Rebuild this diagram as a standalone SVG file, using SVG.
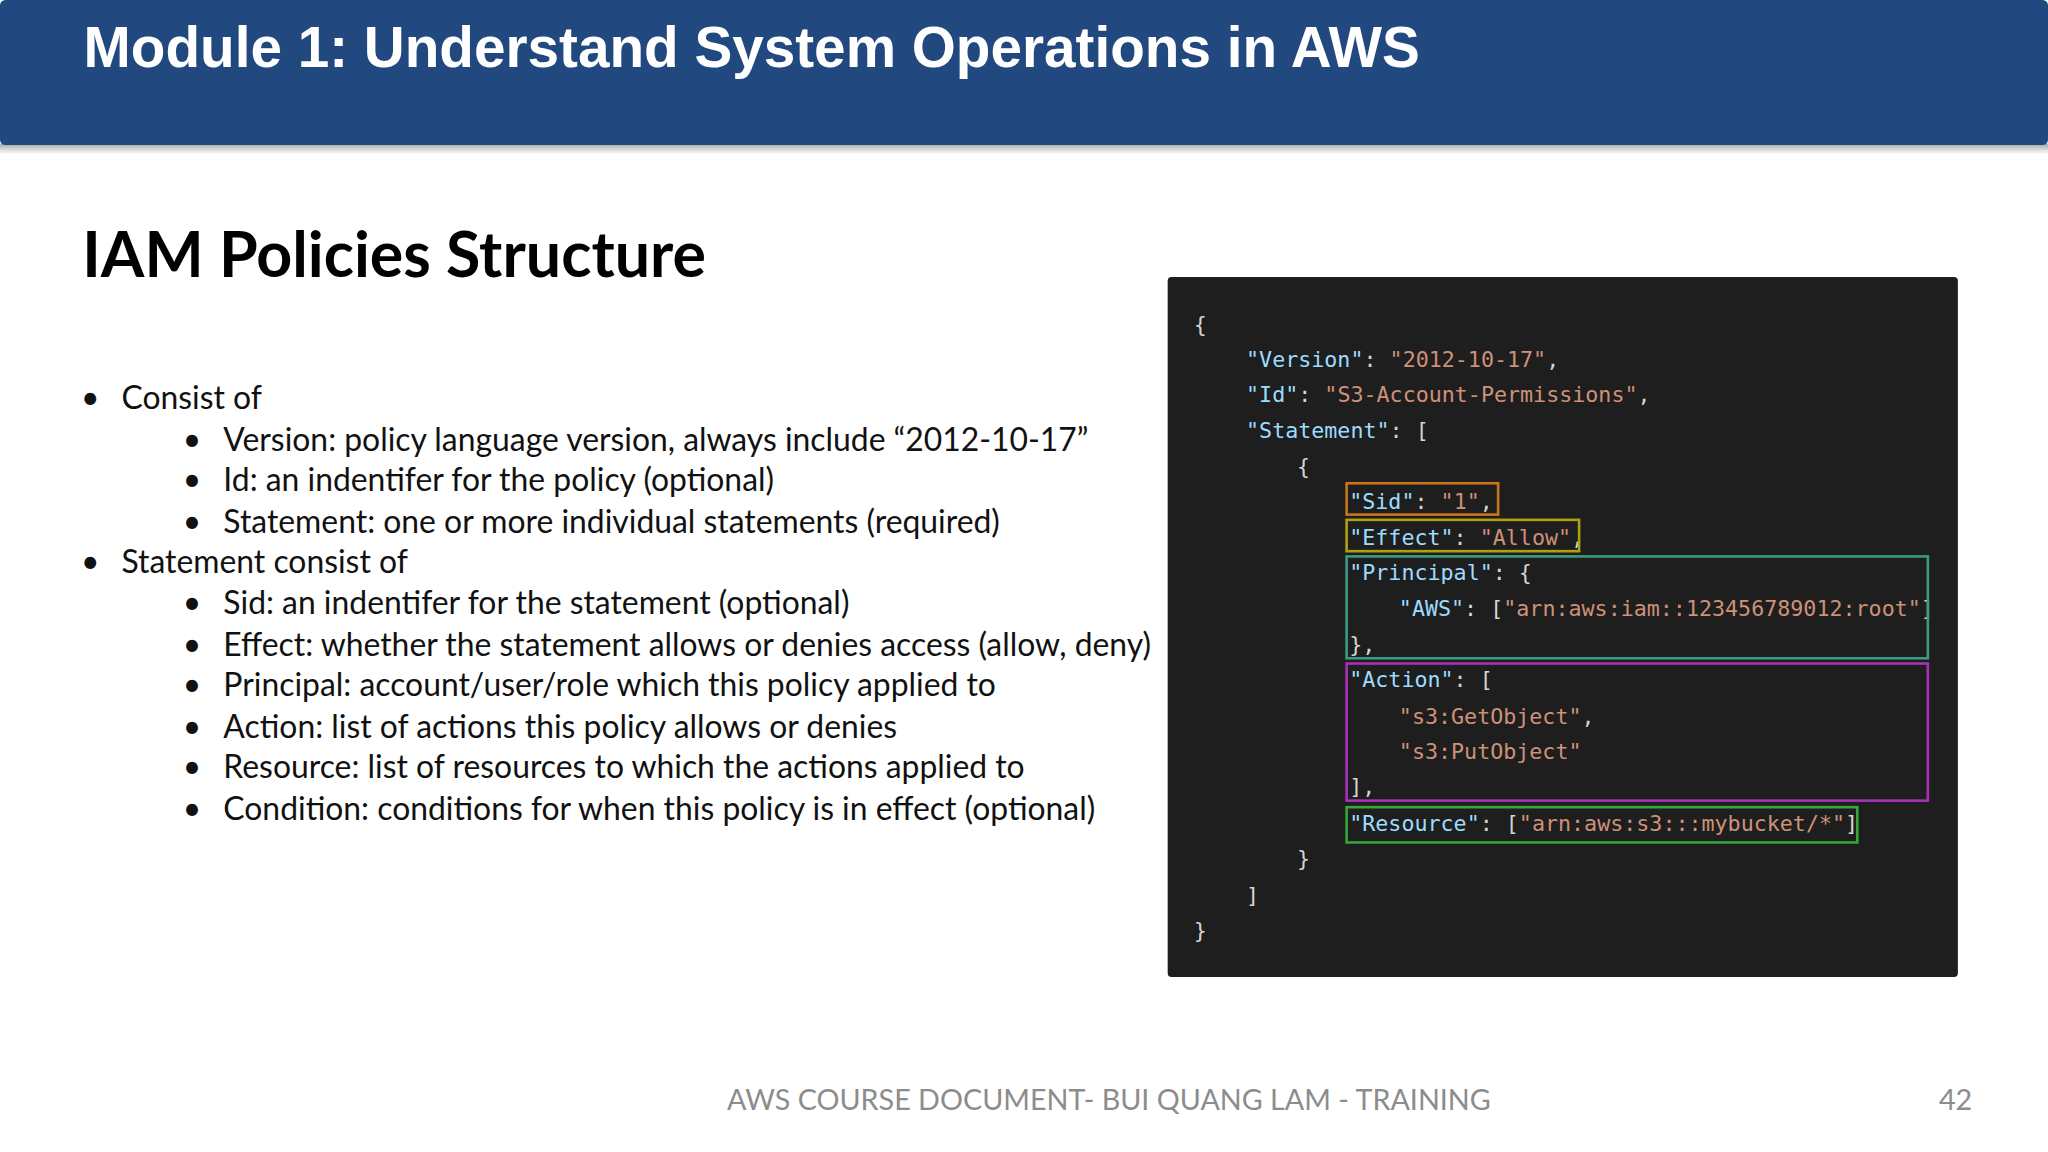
<svg xmlns="http://www.w3.org/2000/svg" width="2048" height="1152" viewBox="0 0 2048 1152">
<defs>
<linearGradient id="sh" x1="0" y1="0" x2="0" y2="1"><stop offset="0" stop-color="#000" stop-opacity="0.35"/><stop offset="1" stop-color="#000" stop-opacity="0"/></linearGradient>
<style>
.b{font-family:Lato,"Open Sans",sans-serif;font-size:24.4px;fill:#111}
.c{font-family:"DejaVu Sans Mono","Liberation Mono",monospace;font-size:16.6px;fill:#d4d4d4;white-space:pre}
.k{fill:#9cdcfe}.s{fill:#ce9178}
.bx{fill:none;stroke-width:2}
</style>
</defs>
<rect width="2048" height="1152" fill="#fff"/>
<g transform="scale(1.30612)">
<g id="header">
<rect x="0" y="110" width="1568" height="8" fill="url(#sh)"/>
<rect x="0" y="0" width="1568" height="111" rx="4" fill="#22497f"/>
<text x="64" y="51" font-family="'Liberation Sans',Arial,sans-serif" font-weight="bold" font-size="43.4" fill="#fff">Module 1: Understand System Operations in AWS</text>
</g>
<g id="title"><text x="63" y="212" font-family="Lato,'Open Sans',sans-serif" font-weight="bold" font-size="48" fill="#000">IAM Policies Structure</text></g>
<g id="bullets">
<text class="b" x="62" y="313">•</text><text class="b" x="93" y="313">Consist of</text>
<text class="b" x="140" y="345">•</text><text class="b" x="171" y="345">Version: policy language version, always include “2012-10-17”</text>
<text class="b" x="140" y="376">•</text><text class="b" x="171" y="376">Id: an indentifer for the policy (optional)</text>
<text class="b" x="140" y="408">•</text><text class="b" x="171" y="408">Statement: one or more individual statements (required)</text>
<text class="b" x="62" y="439">•</text><text class="b" x="93" y="439">Statement consist of</text>
<text class="b" x="140" y="470">•</text><text class="b" x="171" y="470">Sid: an indentifer for the statement (optional)</text>
<text class="b" x="140" y="502">•</text><text class="b" x="171" y="502">Effect: whether the statement allows or denies access (allow, deny)</text>
<text class="b" x="140" y="533">•</text><text class="b" x="171" y="533">Principal: account/user/role which this policy applied to</text>
<text class="b" x="140" y="565">•</text><text class="b" x="171" y="565">Action: list of actions this policy allows or denies</text>
<text class="b" x="140" y="596">•</text><text class="b" x="171" y="596">Resource: list of resources to which the actions applied to</text>
<text class="b" x="140" y="628">•</text><text class="b" x="171" y="628">Condition: conditions for when this policy is in effect (optional)</text>
</g>
<g id="code">
<rect x="894" y="212" width="605" height="536" rx="3" fill="#1e1e1e"/>
<text class="c" x="914" y="254">{</text>
<text class="c" x="954" y="281"><tspan class="k">"Version"</tspan>: <tspan class="s">"2012-10-17"</tspan>,</text>
<text class="c" x="954" y="308"><tspan class="k">"Id"</tspan>: <tspan class="s">"S3-Account-Permissions"</tspan>,</text>
<text class="c" x="954" y="335"><tspan class="k">"Statement"</tspan>: [</text>
<text class="c" x="993" y="363">{</text>
<text class="c" x="1033" y="390"><tspan class="k">"Sid"</tspan>: <tspan class="s">"1"</tspan>,</text>
<text class="c" x="1033" y="417"><tspan class="k">"Effect"</tspan>: <tspan class="s">"Allow"</tspan>,</text>
<text class="c" x="1033" y="444"><tspan class="k">"Principal"</tspan>: {</text>
<text class="c" x="1071" y="472"><tspan class="k">"AWS"</tspan>: [<tspan class="s">"arn:aws:iam::123456789012:root"</tspan>]</text>
<text class="c" x="1033" y="499">},</text>
<text class="c" x="1033" y="526"><tspan class="k">"Action"</tspan>: [</text>
<text class="c" x="1071" y="554"><tspan class="s">"s3:GetObject"</tspan>,</text>
<text class="c" x="1071" y="581"><tspan class="s">"s3:PutObject"</tspan></text>
<text class="c" x="1033" y="608">],</text>
<text class="c" x="1033" y="636"><tspan class="k">"Resource"</tspan>: [<tspan class="s">"arn:aws:s3:::mybucket/*"</tspan>]</text>
<text class="c" x="993" y="663">}</text>
<text class="c" x="954" y="691">]</text>
<text class="c" x="914" y="718">}</text>
<rect class="bx" x="1031" y="370" width="116" height="24" stroke="#c8761c"/>
<rect class="bx" x="1031" y="398" width="178" height="24" stroke="#b0a010"/>
<rect class="bx" x="1031" y="426" width="445" height="78" stroke="#3a9a82"/>
<rect class="bx" x="1031" y="508" width="445" height="105" stroke="#a830b8"/>
<rect class="bx" x="1031" y="618" width="391" height="27" stroke="#34a838"/>
</g>
<g id="footer" font-family="Lato,'Open Sans',sans-serif" font-size="22" fill="#8c8c8c">
<text x="849" y="850" text-anchor="middle">AWS COURSE DOCUMENT- BUI QUANG LAM - TRAINING</text>
<text x="1510" y="850" text-anchor="end">42</text>
</g>
</g>
</svg>
